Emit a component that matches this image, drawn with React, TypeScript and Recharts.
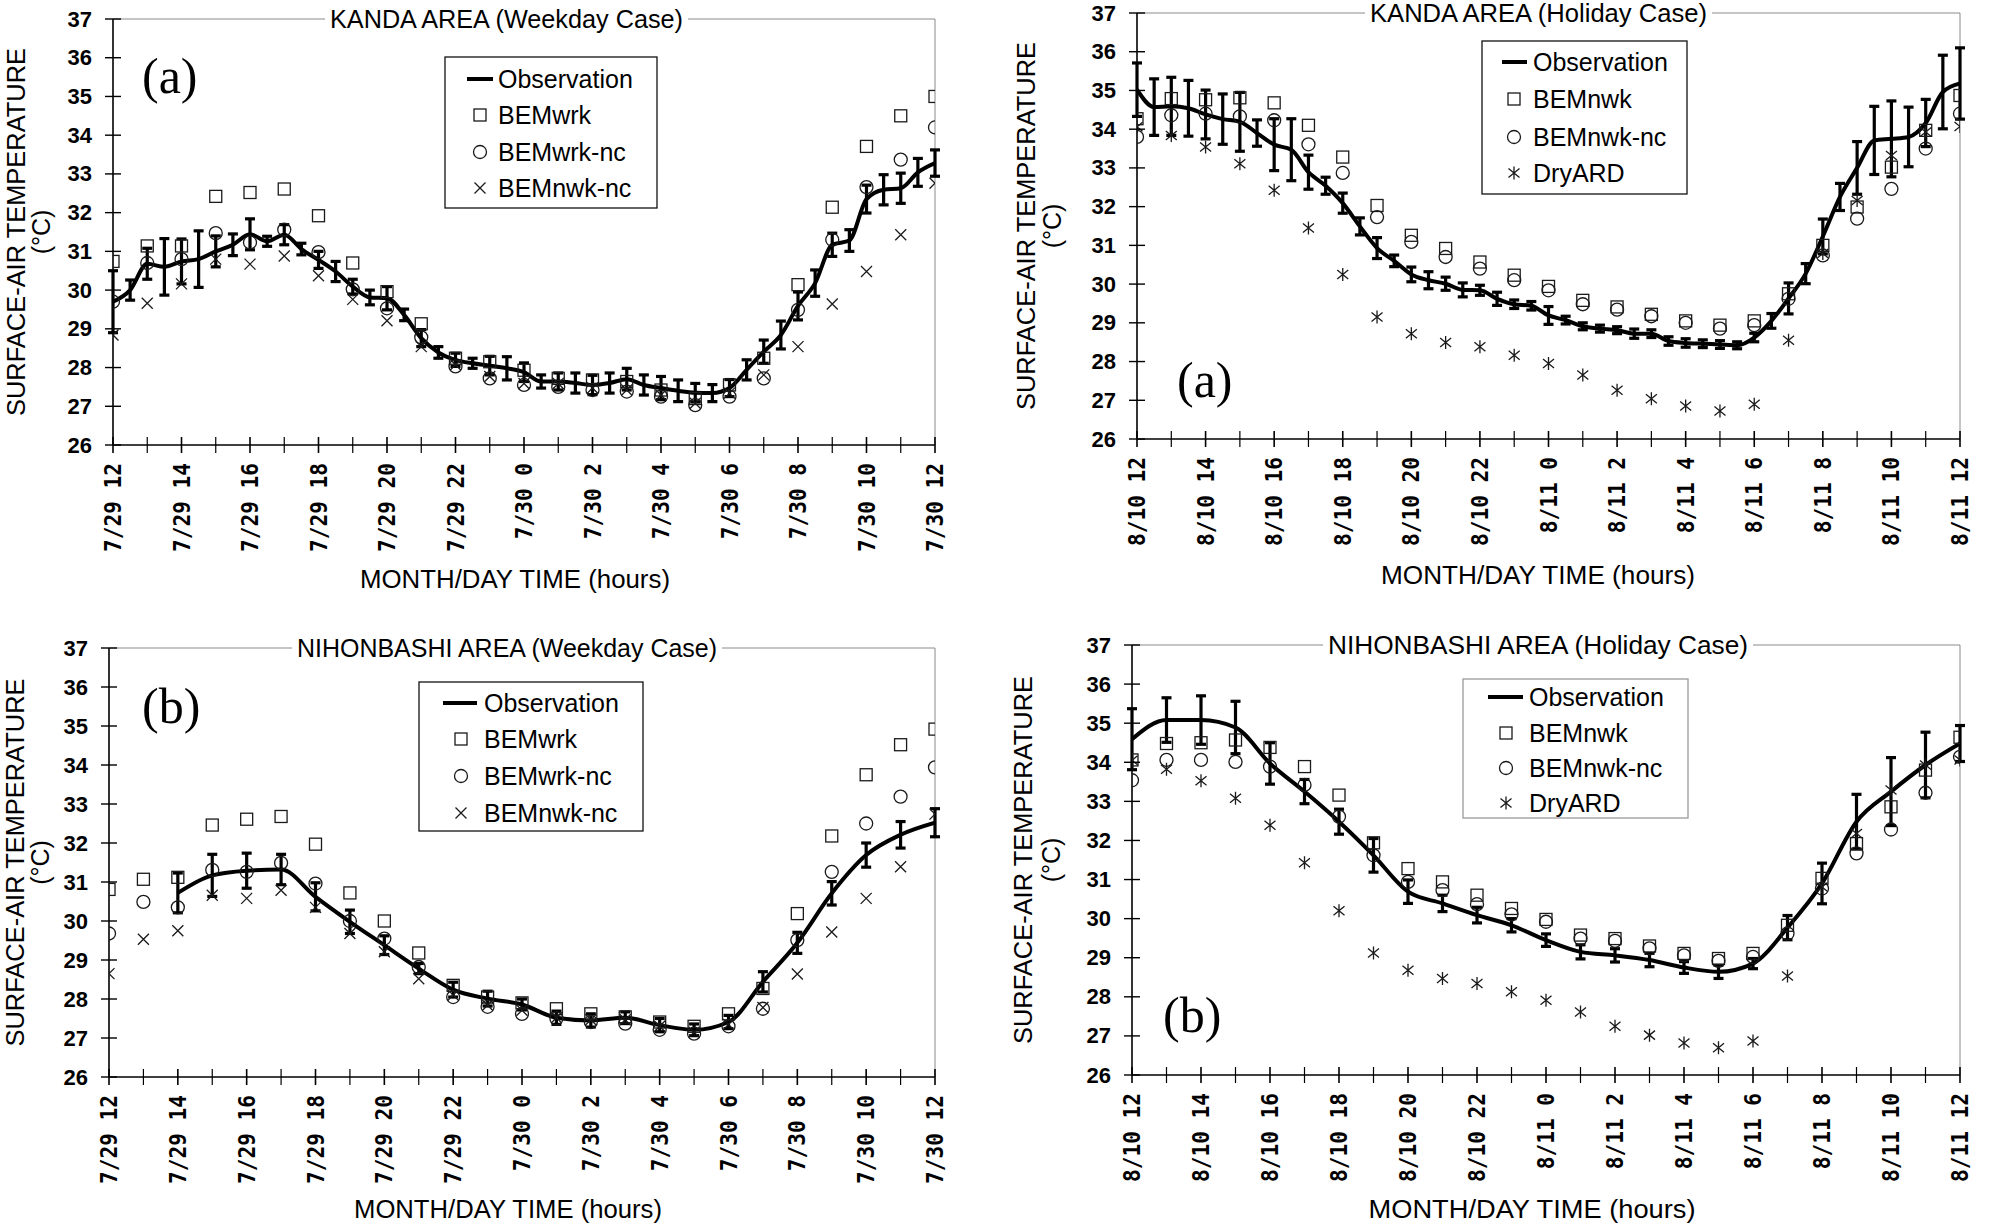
import React from 'react'
import { ComposedChart, Line, Scatter, XAxis, YAxis, ErrorBar, ReferenceLine } from 'recharts'

// ---- data ---------------------------------------------------------------
// x = hours after 12:00 on the first day; models are hourly (0..24)

const HOURS = Array.from({ length: 25 }, (_, i) => i)
const HALF_HOURS = Array.from({ length: 49 }, (_, i) => i / 2)
const TEMP_TICKS = [26, 27, 28, 29, 30, 31, 32, 33, 34, 35, 36, 37]

const weekdayTickLabels = ['7/29 12', '7/29 14', '7/29 16', '7/29 18', '7/29 20', '7/29 22', '7/30 0', '7/30 2', '7/30 4', '7/30 6', '7/30 8', '7/30 10', '7/30 12']
const holidayTickLabels = ['8/10 12', '8/10 14', '8/10 16', '8/10 18', '8/10 20', '8/10 22', '8/11 0', '8/11 2', '8/11 4', '8/11 6', '8/11 8', '8/11 10', '8/11 12']

// Kanda, weekday (observations every 30 min)
const kandaWkObs = [29.7, 30.0, 30.68, 30.6, 30.74, 30.8, 31.0, 31.17, 31.44, 31.26, 31.43, 31.06, 30.78, 30.48, 30.09, 29.81, 29.79, 29.36, 28.76, 28.39, 28.2, 28.11, 28.05, 27.98, 27.88, 27.64, 27.64, 27.6, 27.55, 27.6, 27.7, 27.55, 27.47, 27.4, 27.35, 27.34, 27.47, 27.94, 28.41, 28.84, 29.59, 30.18, 31.17, 31.28, 32.35, 32.59, 32.63, 33.04, 33.28]
const kandaWkErr = [0.8, 0.26, 0.4, 0.73, 0.58, 0.73, 0.4, 0.28, 0.4, 0.13, 0.26, 0.15, 0.22, 0.26, 0.19, 0.19, 0.3, 0.15, 0.22, 0.15, 0.17, 0.13, 0.24, 0.3, 0.24, 0.17, 0.22, 0.26, 0.25, 0.26, 0.28, 0.26, 0.3, 0.28, 0.24, 0.22, 0.22, 0.26, 0.3, 0.36, 0.36, 0.34, 0.3, 0.28, 0.36, 0.39, 0.39, 0.36, 0.34]
const kandaWkBEMwrk = [30.74, 31.14, 31.14, 32.42, 32.52, 32.61, 31.92, 30.7, 29.96, 29.13, 28.24, 28.15, 27.93, 27.72, 27.68, 27.64, 27.42, 27.2, 27.55, 28.24, 30.14, 32.14, 33.71, 34.5, 35.0]
const kandaWkBEMwrkNc = [29.7, 30.7, 30.8, 31.47, 31.23, 31.56, 30.98, 30.02, 29.53, 28.78, 28.03, 27.72, 27.55, 27.5, 27.42, 27.38, 27.25, 27.03, 27.25, 27.72, 29.49, 31.3, 32.66, 33.37, 34.2]
const kandaWkBEMnwkNc = [28.84, 29.66, 30.16, 30.8, 30.67, 30.88, 30.37, 29.76, 29.21, 28.54, 28.07, 27.77, 27.59, 27.59, 27.47, 27.42, 27.29, 27.08, 27.34, 27.81, 28.54, 29.64, 30.48, 31.43, 32.76]

// Kanda, holiday (observations every 30 min)
const kandaHdObs = [35.02, 34.57, 34.59, 34.54, 34.38, 34.26, 34.19, 33.9, 33.6, 33.47, 32.89, 32.54, 32.09, 31.49, 30.93, 30.6, 30.25, 30.1, 30.01, 29.85, 29.84, 29.62, 29.48, 29.44, 29.19, 29.07, 28.91, 28.85, 28.81, 28.72, 28.72, 28.53, 28.48, 28.46, 28.44, 28.42, 28.62, 29.05, 29.63, 30.27, 31.23, 32.25, 33.0, 33.71, 33.75, 33.8, 34.16, 34.96, 35.18]
const kandaHdErr = [0.69, 0.73, 0.75, 0.72, 0.63, 0.65, 0.76, 0.34, 0.67, 0.8, 0.44, 0.22, 0.26, 0.22, 0.27, 0.15, 0.19, 0.22, 0.17, 0.18, 0.13, 0.17, 0.11, 0.11, 0.23, 0.1, 0.09, 0.09, 0.09, 0.12, 0.1, 0.11, 0.11, 0.1, 0.1, 0.09, 0.11, 0.19, 0.4, 0.26, 0.45, 0.35, 0.68, 0.88, 0.98, 0.77, 0.61, 0.95, 0.92]
const kandaHdBEMnwk = [34.27, 34.79, 34.76, 34.81, 34.68, 34.1, 33.28, 32.03, 31.26, 30.92, 30.57, 30.23, 29.94, 29.58, 29.41, 29.22, 29.05, 28.94, 29.05, 29.75, 31.0, 31.99, 33.02, 33.97, 34.87]
const kandaHdBEMnwkNc = [33.8, 34.36, 34.4, 34.33, 34.23, 33.61, 32.87, 31.73, 31.09, 30.7, 30.4, 30.1, 29.84, 29.48, 29.34, 29.17, 29.0, 28.85, 28.94, 29.62, 30.74, 31.69, 32.46, 33.5, 34.4]
const kandaHdDryARD = [34.06, 33.84, 33.54, 33.11, 32.42, 31.45, 30.25, 29.15, 28.72, 28.49, 28.38, 28.16, 27.95, 27.65, 27.26, 27.04, 26.85, 26.72, 26.9, 28.55, 30.79, 32.16, 33.32, 33.93, 34.07]

// Nihonbashi, weekday (hourly observations from 14:00)
const nihonWkObsHours = HOURS.slice(2)
const nihonWkObs = [30.72, 31.17, 31.29, 31.32, 30.62, 29.98, 29.38, 28.78, 28.24, 28.01, 27.86, 27.52, 27.45, 27.52, 27.33, 27.21, 27.41, 28.44, 29.44, 30.71, 31.69, 32.21, 32.52]
const nihonWkErr = [0.51, 0.54, 0.45, 0.39, 0.36, 0.3, 0.24, 0.13, 0.19, 0.19, 0.14, 0.17, 0.17, 0.15, 0.17, 0.15, 0.17, 0.26, 0.27, 0.3, 0.31, 0.34, 0.36]
const nihonWkBEMwrk = [30.81, 31.07, 31.12, 32.46, 32.61, 32.68, 31.97, 30.72, 30.0, 29.18, 28.35, 28.05, 27.9, 27.75, 27.62, 27.54, 27.41, 27.3, 27.62, 28.27, 30.19, 32.18, 33.75, 34.52, 34.92]
const nihonWkBEMwrkNc = [29.68, 30.49, 30.35, 31.31, 31.26, 31.49, 30.96, 30.0, 29.55, 28.82, 28.05, 27.8, 27.62, 27.5, 27.41, 27.37, 27.21, 27.11, 27.3, 27.75, 29.51, 31.26, 32.5, 33.19, 33.94]
const nihonWkBEMnwkNc = [28.65, 29.53, 29.75, 30.66, 30.58, 30.79, 30.35, 29.68, 29.21, 28.52, 28.1, 27.84, 27.71, 27.52, 27.47, 27.47, 27.3, 27.15, 27.35, 27.78, 28.64, 29.72, 30.58, 31.39, 32.74]

// Nihonbashi, holiday (hourly observations)
const nihonHdObs = [34.59, 35.08, 35.08, 34.89, 33.97, 33.25, 32.48, 31.62, 30.69, 30.39, 30.09, 29.83, 29.45, 29.15, 29.06, 28.94, 28.75, 28.64, 28.85, 29.77, 30.9, 32.48, 33.25, 33.93, 34.48]
const nihonHdErr = [0.78, 0.57, 0.62, 0.67, 0.53, 0.31, 0.32, 0.43, 0.3, 0.21, 0.2, 0.17, 0.16, 0.18, 0.17, 0.17, 0.15, 0.17, 0.13, 0.31, 0.52, 0.7, 0.87, 0.84, 0.46]
const nihonHdBEMnwk = [34.06, 34.48, 34.5, 34.57, 34.38, 33.89, 33.16, 31.94, 31.28, 30.94, 30.6, 30.26, 29.98, 29.58, 29.49, 29.3, 29.11, 28.98, 29.11, 29.83, 31.03, 31.92, 32.86, 33.8, 34.64]
const nihonHdBEMnwkNc = [33.54, 34.06, 34.06, 34.01, 33.89, 33.42, 32.61, 31.62, 30.94, 30.73, 30.37, 30.11, 29.92, 29.49, 29.43, 29.24, 29.06, 28.92, 29.02, 29.62, 30.77, 31.67, 32.28, 33.22, 34.14]
const nihonHdDryARD = [34.05, 33.82, 33.53, 33.08, 32.39, 31.43, 30.2, 29.12, 28.68, 28.47, 28.34, 28.13, 27.91, 27.61, 27.25, 27.02, 26.82, 26.7, 26.87, 28.53, 30.81, 32.18, 33.29, 33.93, 34.06]

// ---- styling ------------------------------------------------------------

const FONT = '"Liberation Sans", Arial, Helvetica, sans-serif'
const MONO = '"DejaVu Sans Mono", "Liberation Mono", monospace'
const SERIF = '"Liberation Serif", "Times New Roman", serif'
const INK = '#000'
const FRAME = '#8a8a8a'
const AXIS_W = 100
const PAD_TOP = 24
const PAD_RIGHT = 16
const X_AXIS_H = 110
const TICK_CHAR_W = 12.7

type MarkKind = 'square' | 'circle' | 'cross' | 'star'

function Mark({ kind, cx, cy }: { kind: MarkKind; cx: number; cy: number }) {
  const s = '#1a1a1a'
  const w = 1.3
  if (kind === 'square') return <rect x={cx - 6} y={cy - 6} width={12} height={12} fill="none" stroke={s} strokeWidth={w} />
  if (kind === 'circle') return <circle cx={cx} cy={cy} r={6.5} fill="none" stroke={s} strokeWidth={w} />
  if (kind === 'cross')
    return <path d={`M${cx - 5.5},${cy - 5.5}L${cx + 5.5},${cy + 5.5}M${cx - 5.5},${cy + 5.5}L${cx + 5.5},${cy - 5.5}`} stroke={s} strokeWidth={w} />
  return (
    <path
      d={`M${cx},${cy - 6.5}L${cx},${cy + 6.5}M${cx - 5.5},${cy - 4.5}L${cx + 5.5},${cy + 4.5}M${cx - 5.5},${cy + 4.5}L${cx + 5.5},${cy - 4.5}`}
      stroke={s}
      strokeWidth={w}
    />
  )
}

interface Model {
  name: string
  values: number[]
  mark: MarkKind
}

interface PanelCfg {
  plot: { x: number; y: number; w: number; h: number }
  obsHours: number[]
  obs: number[]
  obsErr: number[]
  models: Model[]
  tickLabels: string[]
  title: { text: string; x1: number; x2: number }
  legend: { x: number; y: number; w: number; h: number; rowY: number[]; lineX: [number, number]; markX: number; textX: number; stroke: string }
  tag: { text: string; x: number; base: number }
  yTitle: { cx: number; unitCx: number }
  xTitle: { text: string; cx: number; base: number; len: number }
}

const panels: PanelCfg[] = [
  {
    plot: { x: 113, y: 19, w: 822, h: 426 },
    obsHours: HALF_HOURS,
    obs: kandaWkObs,
    obsErr: kandaWkErr,
    models: [
      { name: 'BEMwrk', values: kandaWkBEMwrk, mark: 'square' },
      { name: 'BEMwrk-nc', values: kandaWkBEMwrkNc, mark: 'circle' },
      { name: 'BEMnwk-nc', values: kandaWkBEMnwkNc, mark: 'cross' },
    ],
    tickLabels: weekdayTickLabels,
    title: { text: 'KANDA AREA (Weekday Case)', x1: 330, x2: 683 },
    legend: { x: 445, y: 57, w: 212, h: 151, rowY: [79, 115, 152, 188], lineX: [467, 493], markX: 480, textX: 498, stroke: '#111' },
    tag: { text: '(a)', x: 142, base: 93 },
    yTitle: { cx: 16, unitCx: 41 },
    xTitle: { text: 'MONTH/DAY TIME (hours)', cx: 515, base: 588, len: 310 },
  },
  {
    plot: { x: 1137, y: 13, w: 823, h: 426 },
    obsHours: HALF_HOURS,
    obs: kandaHdObs,
    obsErr: kandaHdErr,
    models: [
      { name: 'BEMnwk', values: kandaHdBEMnwk, mark: 'square' },
      { name: 'BEMnwk-nc', values: kandaHdBEMnwkNc, mark: 'circle' },
      { name: 'DryARD', values: kandaHdDryARD, mark: 'star' },
    ],
    tickLabels: holidayTickLabels,
    title: { text: 'KANDA AREA (Holiday Case)', x1: 1370, x2: 1707 },
    legend: { x: 1482, y: 41, w: 205, h: 153, rowY: [62, 99, 137, 173], lineX: [1502, 1527], markX: 1514, textX: 1533, stroke: '#111' },
    tag: { text: '(a)', x: 1177, base: 397 },
    yTitle: { cx: 1026, unitCx: 1052 },
    xTitle: { text: 'MONTH/DAY TIME (hours)', cx: 1538, base: 584, len: 314 },
  },
  {
    plot: { x: 109, y: 648, w: 826, h: 429 },
    obsHours: nihonWkObsHours,
    obs: nihonWkObs,
    obsErr: nihonWkErr,
    models: [
      { name: 'BEMwrk', values: nihonWkBEMwrk, mark: 'square' },
      { name: 'BEMwrk-nc', values: nihonWkBEMwrkNc, mark: 'circle' },
      { name: 'BEMnwk-nc', values: nihonWkBEMnwkNc, mark: 'cross' },
    ],
    tickLabels: weekdayTickLabels,
    title: { text: 'NIHONBASHI AREA (Weekday Case)', x1: 297, x2: 717 },
    legend: { x: 419, y: 682, w: 224, h: 149, rowY: [703, 739, 776, 813], lineX: [443, 477], markX: 461, textX: 484, stroke: '#111' },
    tag: { text: '(b)', x: 142, base: 723 },
    yTitle: { cx: 15, unitCx: 40 },
    xTitle: { text: 'MONTH/DAY TIME (hours)', cx: 508, base: 1218, len: 308 },
  },
  {
    plot: { x: 1132, y: 645, w: 828, h: 430 },
    obsHours: HOURS,
    obs: nihonHdObs,
    obsErr: nihonHdErr,
    models: [
      { name: 'BEMnwk', values: nihonHdBEMnwk, mark: 'square' },
      { name: 'BEMnwk-nc', values: nihonHdBEMnwkNc, mark: 'circle' },
      { name: 'DryARD', values: nihonHdDryARD, mark: 'star' },
    ],
    tickLabels: holidayTickLabels,
    title: { text: 'NIHONBASHI AREA  (Holiday Case)', x1: 1328, x2: 1748 },
    legend: { x: 1463, y: 679, w: 225, h: 139, rowY: [697, 733, 768, 803], lineX: [1488, 1523], markX: 1506, textX: 1529, stroke: '#9a9a9a' },
    tag: { text: '(b)', x: 1163, base: 1032 },
    yTitle: { cx: 1023, unitCx: 1051 },
    xTitle: { text: 'MONTH/DAY  TIME (hours)', cx: 1532, base: 1218, len: 327 },
  },
]

// ---- axis ticks (ticks cross the axis line) -----------------------------

const renderTempTick = (props: any) => {
  const { x, y, payload } = props
  return (
    <g>
      <line x1={x - 8} x2={x + 8} y1={y} y2={y} stroke={INK} strokeWidth={1.4} />
      <text x={x - 21} y={y} textAnchor="end" dominantBaseline="central" fontFamily={FONT} fontWeight="bold" fontSize={22} fill={INK}>
        {payload.value}
      </text>
    </g>
  )
}

const hourTickRenderer = (labels: string[]) => (props: any) => {
  const { x, y, payload } = props
  const h = payload.value as number
  const major = h % 2 === 0
  const label = major ? labels[h / 2] : ''
  return (
    <g>
      <line x1={x} x2={x} y1={y - 8} y2={y + 8} stroke={INK} strokeWidth={major ? 1.6 : 1.2} />
      {major && (
        <text
          transform={`translate(${x},${y + 18}) rotate(-90)`}
          textAnchor="end"
          dominantBaseline="central"
          textLength={label.length * TICK_CHAR_W}
          lengthAdjust="spacingAndGlyphs"
          fontFamily={MONO}
          fontWeight="bold"
          fontSize={23}
          fill={INK}
        >
          {label}
        </text>
      )}
    </g>
  )
}

// ---- one panel ----------------------------------------------------------

function Panel({ cfg }: { cfg: PanelCfg }) {
  const { plot } = cfg
  const width = plot.w + AXIS_W + PAD_RIGHT
  const height = plot.h + PAD_TOP + X_AXIS_H
  const obsRows = cfg.obsHours.map((h, i) => ({ h, t: cfg.obs[i], e: cfg.obsErr[i] }))

  return (
    <div style={{ position: 'absolute', left: plot.x - AXIS_W, top: plot.y - PAD_TOP }}>
      <ComposedChart width={width} height={height} margin={{ top: PAD_TOP, right: PAD_RIGHT, bottom: 0, left: 0 }}>
        <XAxis
          type="number"
          dataKey="h"
          domain={[0, 24]}
          ticks={HOURS}
          interval={0}
          height={X_AXIS_H}
          tickSize={0}
          tickMargin={0}
          tickLine={false}
          axisLine={{ stroke: INK, strokeWidth: 1.6 }}
          tick={hourTickRenderer(cfg.tickLabels)}
          allowDataOverflow
        />
        <YAxis
          type="number"
          domain={[26, 37]}
          ticks={TEMP_TICKS}
          interval={0}
          width={AXIS_W}
          tickSize={0}
          tickMargin={0}
          tickLine={false}
          axisLine={{ stroke: INK, strokeWidth: 1.6 }}
          tick={renderTempTick}
          allowDataOverflow
        />
        <ReferenceLine y={37} stroke={FRAME} strokeWidth={1} />
        <ReferenceLine x={24} stroke={FRAME} strokeWidth={1} />
        {cfg.models.map((m) => (
          <Scatter
            key={m.name}
            name={m.name}
            data={m.values.map((t, h) => ({ h, t }))}
            dataKey="t"
            isAnimationActive={false}
            shape={(p: any) => <Mark kind={m.mark} cx={p.cx} cy={p.cy} />}
          />
        ))}
        <Line
          name="Observation"
          data={obsRows}
          dataKey="t"
          type="monotone"
          stroke={INK}
          strokeWidth={4}
          dot={false}
          activeDot={false}
          isAnimationActive={false}
        >
          <ErrorBar dataKey="e" direction="y" width={5} stroke={INK} strokeWidth={3.2} />
        </Line>
      </ComposedChart>
    </div>
  )
}

// ---- titles, legends and labels drawn on top ----------------------------

function Decorations({ cfg }: { cfg: PanelCfg }) {
  const { plot, title, legend, tag, yTitle, xTitle } = cfg
  const cy = plot.y + plot.h / 2
  const names = ['Observation', ...cfg.models.map((m) => m.name)]
  return (
    <g>
      <rect x={title.x1 - 5} y={plot.y - 3} width={title.x2 - title.x1 + 10} height={6} fill="#fff" />
      <text x={title.x1} y={plot.y + 9} textLength={title.x2 - title.x1} lengthAdjust="spacingAndGlyphs" fontFamily={FONT} fontSize={25} fill={INK}>
        {title.text}
      </text>

      <rect x={legend.x} y={legend.y} width={legend.w} height={legend.h} fill="#fff" stroke={legend.stroke} strokeWidth={1.3} />
      {names.map((n, i) => {
        const ry = legend.rowY[i]
        return (
          <g key={n}>
            {i === 0 ? (
              <line x1={legend.lineX[0]} x2={legend.lineX[1]} y1={ry} y2={ry} stroke={INK} strokeWidth={4} />
            ) : (
              <Mark kind={cfg.models[i - 1].mark} cx={legend.markX} cy={ry} />
            )}
            <text x={legend.textX} y={ry + 9} fontFamily={FONT} fontSize={25} fill={INK}>
              {n}
            </text>
          </g>
        )
      })}

      <text x={tag.x} y={tag.base} fontFamily={SERIF} fontSize={50} fill={INK}>
        {tag.text}
      </text>

      <text
        transform={`translate(${yTitle.cx},${cy}) rotate(-90)`}
        textAnchor="middle"
        dominantBaseline="central"
        textLength={368}
        lengthAdjust="spacingAndGlyphs"
        fontFamily={FONT}
        fontSize={25}
        fill={INK}
      >
        SURFACE-AIR TEMPERATURE
      </text>
      <text transform={`translate(${yTitle.unitCx},${cy}) rotate(-90)`} textAnchor="middle" dominantBaseline="central" fontFamily={FONT} fontSize={25} fill={INK}>
        (°C)
      </text>

      <text
        x={xTitle.cx - xTitle.len / 2}
        y={xTitle.base}
        textLength={xTitle.len}
        lengthAdjust="spacingAndGlyphs"
        fontFamily={FONT}
        fontSize={25}
        fill={INK}
      >
        {xTitle.text}
      </text>
    </g>
  )
}

export default function App() {
  return (
    <div style={{ position: 'absolute', left: 0, top: 0, width: 1996, height: 1226, background: '#fff', overflow: 'hidden' }}>
      {panels.map((p, i) => (
        <Panel key={i} cfg={p} />
      ))}
      <svg width={1996} height={1226} style={{ position: 'absolute', left: 0, top: 0, pointerEvents: 'none' }}>
        {panels.map((p, i) => (
          <Decorations key={i} cfg={p} />
        ))}
      </svg>
    </div>
  )
}
